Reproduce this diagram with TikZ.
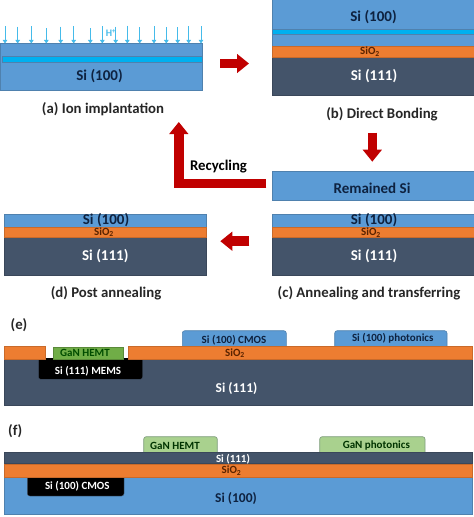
\documentclass[tikz,border=0pt]{standalone}
\usepackage{fontspec}
\setmainfont{Carlito}
\usetikzlibrary{arrows.meta}
\definecolor{siblue}{HTML}{5B9BD5}
\definecolor{siedge}{HTML}{4F81AE}
\definecolor{band}{HTML}{00B0F0}
\definecolor{oxide}{HTML}{ED7D31}
\definecolor{sidark}{HTML}{44546A}
\definecolor{ganmid}{HTML}{70AD47}
\definecolor{ganlight}{HTML}{A9D18E}
\definecolor{redarrow}{HTML}{C00000}
\definecolor{navytext}{HTML}{0E2240}
\definecolor{oxtext}{HTML}{5A2300}
\definecolor{ionblue}{HTML}{45BBEA}
\tikzset{
  box/.style n args={4}{anchor=center,inner sep=0pt,outer sep=0pt,
    at={({((#1)+(#3))/2},{((#2)+(#4))/2})},
    minimum width={(#3)-(#1)},minimum height={(#4)-(#2)}},
  si100/.style={fill=siblue,draw=siedge,line width=0.5pt,text=navytext,font=\fontsize{15}{17}\selectfont\bfseries},
  si111/.style={fill=sidark,draw=sidark!85!black,line width=0.5pt,text=white,font=\fontsize{15}{17}\selectfont\bfseries},
  sio/.style={fill=oxide,draw=oxide!85!black,line width=0.4pt},
  bandlayer/.style={fill=band,draw=siedge,line width=0.5pt},
  gapbox/.style={fill=white,draw=none},
  tabblue/.style={fill=siblue,draw=siedge,line width=0.6pt,rounded corners=2.5pt},
  tabgreen/.style={fill=ganlight,draw=ganlight!60!sidark,line width=0.7pt,rounded corners=2.5pt},
  hemt/.style={fill=ganmid,draw=ganmid!80!black,line width=0.4pt},
  blackbox/.style={fill=black,draw=sidark,line width=0.4pt,rounded corners=2.5pt},
  caption/.style={inner sep=0pt,text=black!85,font=\fontsize{14.8}{17}\selectfont\bfseries},
  whitelbl/.style={inner sep=0pt,text=white,font=\fontsize{13.5}{16}\selectfont\bfseries},
  smallwhite/.style={inner sep=0pt,text=white,font=\fontsize{11}{13}\selectfont\bfseries},
  navylbl/.style={inner sep=0pt,text=navytext,font=\fontsize{15}{17}\selectfont\bfseries},
  navysmall/.style={inner sep=0pt,text=navytext,font=\fontsize{13.5}{16}\selectfont\bfseries},
  smallnavy/.style={inner sep=0pt,text=navytext,font=\fontsize{11}{13}\selectfont\bfseries},
  greenlbl/.style={inner sep=0pt,text=black!80!green,font=\fontsize{11}{13}\selectfont\bfseries},
  oxlbl/.style={inner sep=0pt,text=oxtext,font=\fontsize{11}{13}\selectfont\bfseries},
  blockarrow/.style={draw=redarrow,line width=9.6pt,miter limit=10,
    -{Triangle[length=12pt,width=18.5pt,color=redarrow]}},
  ion/.style={draw=ionblue,line width=0.6pt,-{Triangle[length=3.6pt,width=4.6pt]}},
}
\begin{document}
\begin{tikzpicture}[x=1pt,y=-1pt]
\useasboundingbox (0,0) rectangle (474,517);

% (a)
\node[si100,box={0.3}{43.5}{202.5}{90.5}] (a) {};
\node[bandlayer,box={2.3}{56}{202.5}{62}] (aband) {};
\node[navylbl] (atext) at (99.5,76) {Si (100)};
\foreach \x/\t in {5/26,17.7/26.5,31.3/26,46.3/28,60.7/26.5,73.7/26,90.3/28,102.3/26,115.7/26.5,127.3/25.5,139.7/27,154/26,166.3/27,177.7/27,188.7/26,201/26}{
  \coordinate (top) at (\x,\t);
  \draw[ion] (top) -- (top |- a.north);
}
\node[inner sep=0pt,text=ionblue,font=\fontsize{10}{12}\selectfont\bfseries] (hplus) at (111,33) {H\textsuperscript{+}};
\node[caption] (acap) at (103,108.7) {(a) Ion implantation};

% (b)
\node[si100,box={272}{-2}{476}{46}] (b100) {};
\node[bandlayer,box={272}{29.5}{476}{34.5}] (bband) {};
\node[navylbl] (b100t) at (373.5,17.5) {Si (100)};
\node[si111,box={272}{57.3}{476}{95}] (b111) {Si (111)};
\node[sio,box={272}{46}{476}{57.3}] (bsio) {};
\node[oxlbl] (bsiot) at (370,51.5) {SiO\textsubscript{2}};
\node[caption] (bcap) at (382,114.5) {(b) Direct Bonding};

% remained
\node[si100,box={272}{171.5}{476}{200}] (rem) {};
\node[navylbl] (remt) at (372,188) {Remained Si};

% (c)
\node[si100,box={272}{214}{476}{227}] (c100) {Si (100)};
\node[si111,box={272}{237.5}{476}{275.5}] (c111) {Si (111)};
\node[sio,box={272}{226.8}{476}{237.5}] (csio) {};
\node[oxlbl] (csiot) at (371,232.5) {SiO\textsubscript{2}};
\node[caption] (ccap) at (369,293.7) {(c) Annealing and transferring};

% (d)
\node[si100,box={4.5}{214}{206}{227}] (d100) {};
\node[navylbl] (d100t) at (106,220.5) {Si (100)};
\node[si111,box={4.5}{237.5}{206}{275.5}] (d111) {Si (111)};
\node[sio,box={4.5}{226.8}{206}{237.5}] (dsio) {};
\node[oxlbl] (dsiot) at (104,232) {SiO\textsubscript{2}};
\node[caption] (dcap) at (106,293.7) {(d) Post annealing};

% block arrows
\coordinate (ab1) at (220,63.5);
\coordinate (ab2) at (249,63.5);
\coordinate (bc1) at (372.3,132.7);
\coordinate (bc2) at (372.3,161.7);
\coordinate (cd1) at (249.3,241.2);
\coordinate (cd2) at (220.3,241.2);
\coordinate (re1) at (266.3,183.6);
\coordinate (re2) at (178.8,183.6);
\coordinate (re3) at (178.8,122);
\draw[blockarrow] (ab1) -- (ab2);
\draw[blockarrow] (bc1) -- (bc2);
\draw[blockarrow] (cd1) -- (cd2);
\draw[blockarrow] (re1) -- (re2) -- (re3);
\node[caption,text=black] (recy) at (218.5,166.7) {Recycling};

% (e)
\node[caption] (elbl) at (19,325) {(e)};
\node[tabblue,box={182.3}{330.7}{286.3}{352}] (ecmos) {};
\node[tabblue,box={334.7}{330.7}{447}{352}] (ephot) {};
\node[si111,box={4.5}{359.3}{472.3}{405.3}] (e111) {};
\node[blackbox,box={38.3}{354}{142.7}{379.3}] (emems) {};
\node[gapbox,box={45}{345}{128}{358.3}] (egap) {};
\node[sio,box={4.5}{346.3}{45}{359.3}] (esiol) {};
\node[sio,box={128}{346.3}{472.3}{359.3}] (esior) {};
\node[hemt,box={53.3}{346.7}{123.3}{359}] (ehemt) {};
\node[inner sep=0pt,text=black!70!green,font=\fontsize{11}{13}\selectfont\bfseries] (ehemtt) at (85,352.7) {GaN HEMT};
\node[smallwhite] (ememst) at (88,371.3) {Si (111) MEMS};
\node[smallnavy] (ecmost) at (234,340) {Si (100) CMOS};
\node[smallnavy] (ephott) at (392.7,338.7) {Si (100) photonics};
\node[oxlbl] (esiot) at (235,353) {SiO\textsubscript{2}};
\node[whitelbl] (e111t) at (236.5,388.7) {Si (111)};

% (f)
\node[caption] (flbl) at (15.3,430.7) {(f)};
\node[tabgreen,box={143.7}{436.7}{217.3}{458}] (fhemt) {};
\node[tabgreen,box={319.7}{436.7}{425}{458}] (fphot) {};
\node[si100,box={4.5}{477.3}{472.3}{514.7}] (f100) {};
\node[blackbox,box={27.3}{472}{124}{496}] (fcmos) {};
\node[si111,box={4.5}{452.7}{472.3}{463.7}] (f111) {};
\node[sio,box={4.5}{463.7}{472.3}{477.3}] (fsio) {};
\node[greenlbl] (fhemtt) at (175,446.3) {GaN HEMT};
\node[greenlbl] (fphott) at (376.3,445.3) {GaN photonics};
\node[smallwhite] (fcmost) at (77.3,486.7) {Si (100) CMOS};
\node[smallwhite] (f111t) at (233,459) {Si (111)};
\node[oxlbl] (fsiot) at (231.5,470.7) {SiO\textsubscript{2}};
\node[navysmall] (f100t) at (236,498.3) {Si (100)};
\end{tikzpicture}
\end{document}
